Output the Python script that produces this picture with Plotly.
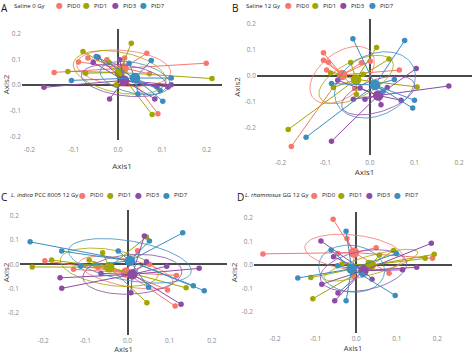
import numpy as np
import plotly.graph_objects as go

W, H = 474, 354

groups = ["PID0", "PID1", "PID3", "PID7"]
colors = ["#F8766D", "#A3A500", "#8E4BA6", "#3A8DBF"]
panel_letters = ["A", "B", "C", "D"]
panel_titles = ["Saline 0 Gy", "Saline 12 Gy",
                "<i>L. indica</i> PCC 8005 12 Gy", "<i>L. rhamnosus</i> GG 12 Gy"]
tick_vals = [-0.2, -0.1, 0.0, 0.1, 0.2]
tick_text = ["-0.2", "-0.1", "0.0", "0.1", "0.2"]

# ---- Panel A: Saline 0 Gy ----
A_PID0_axis1 = [0.199, -0.144, -0.089, -0.068, -0.025, 0.065, 0.090, 0.071, 0.015]
A_PID0_axis2 = [0.085, 0.049, 0.090, 0.105, 0.098, 0.124, -0.112, 0.044, 0.105]
A_PID1_axis1 = [0.030, -0.079, -0.113, -0.073, 0.212, 0.077, -0.004, -0.020]
A_PID1_axis2 = [0.163, 0.130, 0.053, 0.046, 0.025, -0.115, 0.001, 0.088]
A_PID3_axis1 = [-0.167, -0.056, -0.045, -0.019, 0.004, 0.083, 0.088, 0.113, 0.120]
A_PID3_axis2 = [-0.009, 0.088, 0.108, -0.054, 0.098, -0.054, -0.008, -0.008, 0.001]
A_PID7_axis1 = [-0.105, -0.049, 0.025, 0.075, 0.120, 0.095, 0.101, 0.045]
A_PID7_axis2 = [0.018, 0.111, 0.085, 0.095, 0.027, -0.021, -0.063, -0.035]

# ---- Panel B: Saline 12 Gy ----
B_PID0_axis1 = [-0.176, -0.104, -0.104, -0.093, -0.097, -0.019, 0.001, 0.066, -0.034]
B_PID0_axis2 = [-0.272, 0.087, 0.059, 0.051, 0.021, 0.049, 0.055, 0.021, -0.050]
B_PID1_axis1 = [-0.183, -0.088, -0.082, -0.043, -0.015, 0.015, 0.043, 0.106, -0.030]
B_PID1_axis2 = [-0.207, 0.010, -0.046, 0.050, 0.005, 0.108, 0.063, -0.044, -0.073]
B_PID3_axis1 = [-0.086, -0.072, -0.037, -0.022, -0.011, 0.025, 0.039, 0.070, 0.104, 0.177]
B_PID3_axis2 = [-0.252, -0.018, -0.091, -0.048, -0.091, -0.112, -0.046, -0.095, 0.027, -0.040]
B_PID7_axis1 = [-0.143, -0.038, -0.086, 0.078, 0.055, 0.100, 0.096, 0.030]
B_PID7_axis2 = [-0.237, 0.141, -0.031, 0.134, -0.015, -0.095, -0.125, -0.060]

# ---- Panel C: L. indica PCC 8005 12 Gy ----
C_PID0_axis1 = [-0.196, -0.128, -0.070, 0.024, 0.052, 0.095, 0.116, 0.113, -0.040]
C_PID0_axis2 = [0.015, -0.020, -0.012, 0.056, 0.001, -0.105, -0.045, -0.171, -0.020]
C_PID1_axis1 = [-0.226, -0.180, -0.091, -0.059, -0.078, 0.045, 0.046, 0.139, 0.014]
C_PID1_axis2 = [-0.010, 0.018, 0.018, 0.048, 0.001, 0.113, -0.157, -0.096, -0.040]
C_PID3_axis1 = [-0.160, -0.156, -0.063, 0.008, 0.040, 0.045, 0.093, 0.127, 0.170]
C_PID3_axis2 = [-0.055, -0.098, -0.037, -0.116, 0.117, 0.011, -0.007, -0.164, -0.016]
C_PID7_axis1 = [-0.231, -0.156, -0.022, 0.052, 0.131, 0.156, 0.182, 0.050, -0.111]
C_PID7_axis2 = [0.093, 0.055, 0.055, 0.097, 0.130, -0.087, -0.108, -0.094, -0.007]

# ---- Panel D: L. rhamnosus GG 12 Gy ----
D_PID0_axis1 = [-0.230, -0.057, -0.023, -0.045, 0.049, 0.081, 0.188, -0.007]
D_PID0_axis2 = [0.047, 0.195, 0.113, 0.049, 0.073, -0.035, 0.028, -0.047]
D_PID1_axis1 = [-0.107, -0.112, -0.035, 0.057, 0.092, 0.170, 0.192, 0.030]
D_PID1_axis2 = [-0.144, -0.054, 0.004, 0.042, 0.061, 0.028, 0.045, 0.010]
D_PID3_axis1 = [-0.087, -0.056, -0.085, -0.045, -0.053, 0.039, 0.114, 0.149, 0.185]
D_PID3_axis2 = [0.102, 0.035, -0.082, -0.120, -0.153, -0.061, -0.021, -0.010, 0.092]
D_PID7_axis1 = [-0.144, -0.025, -0.062, -0.025, 0.096, 0.099, 0.016, -0.046]
D_PID7_axis2 = [-0.056, 0.144, 0.064, -0.153, -0.130, 0.049, -0.042, -0.004]

panels = [
    [(A_PID0_axis1, A_PID0_axis2), (A_PID1_axis1, A_PID1_axis2),
     (A_PID3_axis1, A_PID3_axis2), (A_PID7_axis1, A_PID7_axis2)],
    [(B_PID0_axis1, B_PID0_axis2), (B_PID1_axis1, B_PID1_axis2),
     (B_PID3_axis1, B_PID3_axis2), (B_PID7_axis1, B_PID7_axis2)],
    [(C_PID0_axis1, C_PID0_axis2), (C_PID1_axis1, C_PID1_axis2),
     (C_PID3_axis1, C_PID3_axis2), (C_PID7_axis1, C_PID7_axis2)],
    [(D_PID0_axis1, D_PID0_axis2), (D_PID1_axis1, D_PID1_axis2),
     (D_PID3_axis1, D_PID3_axis2), (D_PID7_axis1, D_PID7_axis2)],
]

# layout geometry (pixels): plot area boxes and axis ranges
boxes = [(22, 222, 29, 140), (257, 472, 19, 155), (20, 227, 210, 335), (254, 452, 212, 333)]
xranges = [[-0.2165, 0.2345], [-0.253, 0.229], [-0.255, 0.236], [-0.252, 0.236]]
yranges = [[-0.214, 0.218], [-0.305, 0.217], [-0.290, 0.224], [-0.290, 0.2255]]
xtick_standoff = [4, 2, 0, 0]
xtitle_standoff = [10, 3, 2, 2]
xtitle_size = [8, 8, 7.5, 7.5]
header_y = [6, 6, 195, 195]
header_letter_x = [0, 231, 0, 236]
header_title_x = [12, 244, 9, 243]
header_dot_x = [[59, 86, 115, 143], [288, 315, 343, 372], [82, 110, 138, 166], [314, 341, 369, 397]]

ELLIPSE_SCALE = 1.0
FONT = "Open Sans"

fig = go.Figure()

def ellipse(x, y, k=ELLIPSE_SCALE, n=120):
    x = np.asarray(x); y = np.asarray(y)
    cov = np.cov(np.vstack([x, y]))
    vals, vecs = np.linalg.eigh(cov)
    t = np.linspace(0, 2 * np.pi, n)
    circ = np.vstack([np.cos(t), np.sin(t)])
    pts = vecs @ (np.sqrt(np.maximum(vals, 0))[:, None] * circ) * k
    return x.mean() + pts[0], y.mean() + pts[1]

annotations = []
for p, pdata in enumerate(panels):
    xa = "x" if p == 0 else f"x{p+1}"
    ya = "y" if p == 0 else f"y{p+1}"
    for g, (gx, gy) in enumerate(pdata):
        col = colors[g]
        cx, cy = float(np.mean(gx)), float(np.mean(gy))
        sx, sy = [], []
        for xi, yi in zip(gx, gy):
            sx += [cx, xi, None]
            sy += [cy, yi, None]
        fig.add_trace(go.Scatter(x=sx, y=sy, mode="lines", xaxis=xa, yaxis=ya,
                                 line=dict(color=col, width=1), showlegend=False,
                                 hoverinfo="skip", name=groups[g]))
        ex, ey = ellipse(gx, gy)
        fig.add_trace(go.Scatter(x=ex, y=ey, mode="lines", xaxis=xa, yaxis=ya,
                                 line=dict(color=col, width=0.8), showlegend=False,
                                 hoverinfo="skip", name=groups[g]))
        fig.add_trace(go.Scatter(x=gx, y=gy, mode="markers", xaxis=xa, yaxis=ya,
                                 marker=dict(color=col, size=5.5), showlegend=False,
                                 name=groups[g]))
        fig.add_trace(go.Scatter(x=[cx], y=[cy], mode="markers", xaxis=xa, yaxis=ya,
                                 marker=dict(color=col, size=10.5), showlegend=False,
                                 name=groups[g] + " centroid"))

    x0, x1, y0, y1 = boxes[p]
    axx = dict(domain=[x0 / W, x1 / W], range=xranges[p], anchor=ya, automargin=False,
               tickvals=tick_vals, ticktext=tick_text, showgrid=False,
               zeroline=True, zerolinecolor="#4a4a4a", zerolinewidth=1.6,
               showline=False, ticks="", ticklabelstandoff=xtick_standoff[p],
               tickfont=dict(size=6.5, color="#8a8a8a", family=FONT),
               title=dict(text="Axis1", font=dict(size=xtitle_size[p], color="#3c3c3c", family=FONT),
                          standoff=xtitle_standoff[p]))
    axy = dict(domain=[1 - y1 / H, 1 - y0 / H], range=yranges[p], anchor=xa, automargin=False,
               tickvals=tick_vals, ticktext=tick_text, showgrid=False,
               zeroline=True, zerolinecolor="#4a4a4a", zerolinewidth=1.6,
               showline=False, ticks="",
               tickfont=dict(size=6.5, color="#8a8a8a", family=FONT),
               title=dict(text="Axis2", font=dict(size=8, color="#3c3c3c", family=FONT), standoff=2))
    kx = "xaxis" if p == 0 else f"xaxis{p+1}"
    ky = "yaxis" if p == 0 else f"yaxis{p+1}"
    fig.layout[kx] = axx
    fig.layout[ky] = axy

    hy = 1 - header_y[p] / H
    annotations.append(dict(text=panel_letters[p], x=header_letter_x[p] / W,
                            y=1 - (header_y[p] - 6) / H,
                            xref="paper", yref="paper", xanchor="left", yanchor="top",
                            showarrow=False, borderpad=0,
                            font=dict(size=10, color="#111", family=FONT)))
    annotations.append(dict(text=panel_titles[p], x=header_title_x[p] / W, y=hy,
                            xref="paper", yref="paper", xanchor="left", yanchor="middle",
                            showarrow=False, font=dict(size=6, color="#222", family=FONT)))
    for g in range(4):
        dx = header_dot_x[p][g]
        annotations.append(dict(text="●", x=dx / W, y=hy, xref="paper", yref="paper",
                                xanchor="center", yanchor="middle", showarrow=False,
                                font=dict(size=8, color=colors[g], family="DejaVu Sans")))
        annotations.append(dict(text=groups[g], x=(dx + 6) / W, y=hy, xref="paper", yref="paper",
                                xanchor="left", yanchor="middle", showarrow=False,
                                font=dict(size=6, color="#222", family=FONT)))

fig.update_layout(width=W, height=H, margin=dict(l=0, r=0, t=0, b=0),
                  paper_bgcolor="white", plot_bgcolor="white", showlegend=False,
                  annotations=annotations, font=dict(family=FONT))
fig.write_html("out.html")
